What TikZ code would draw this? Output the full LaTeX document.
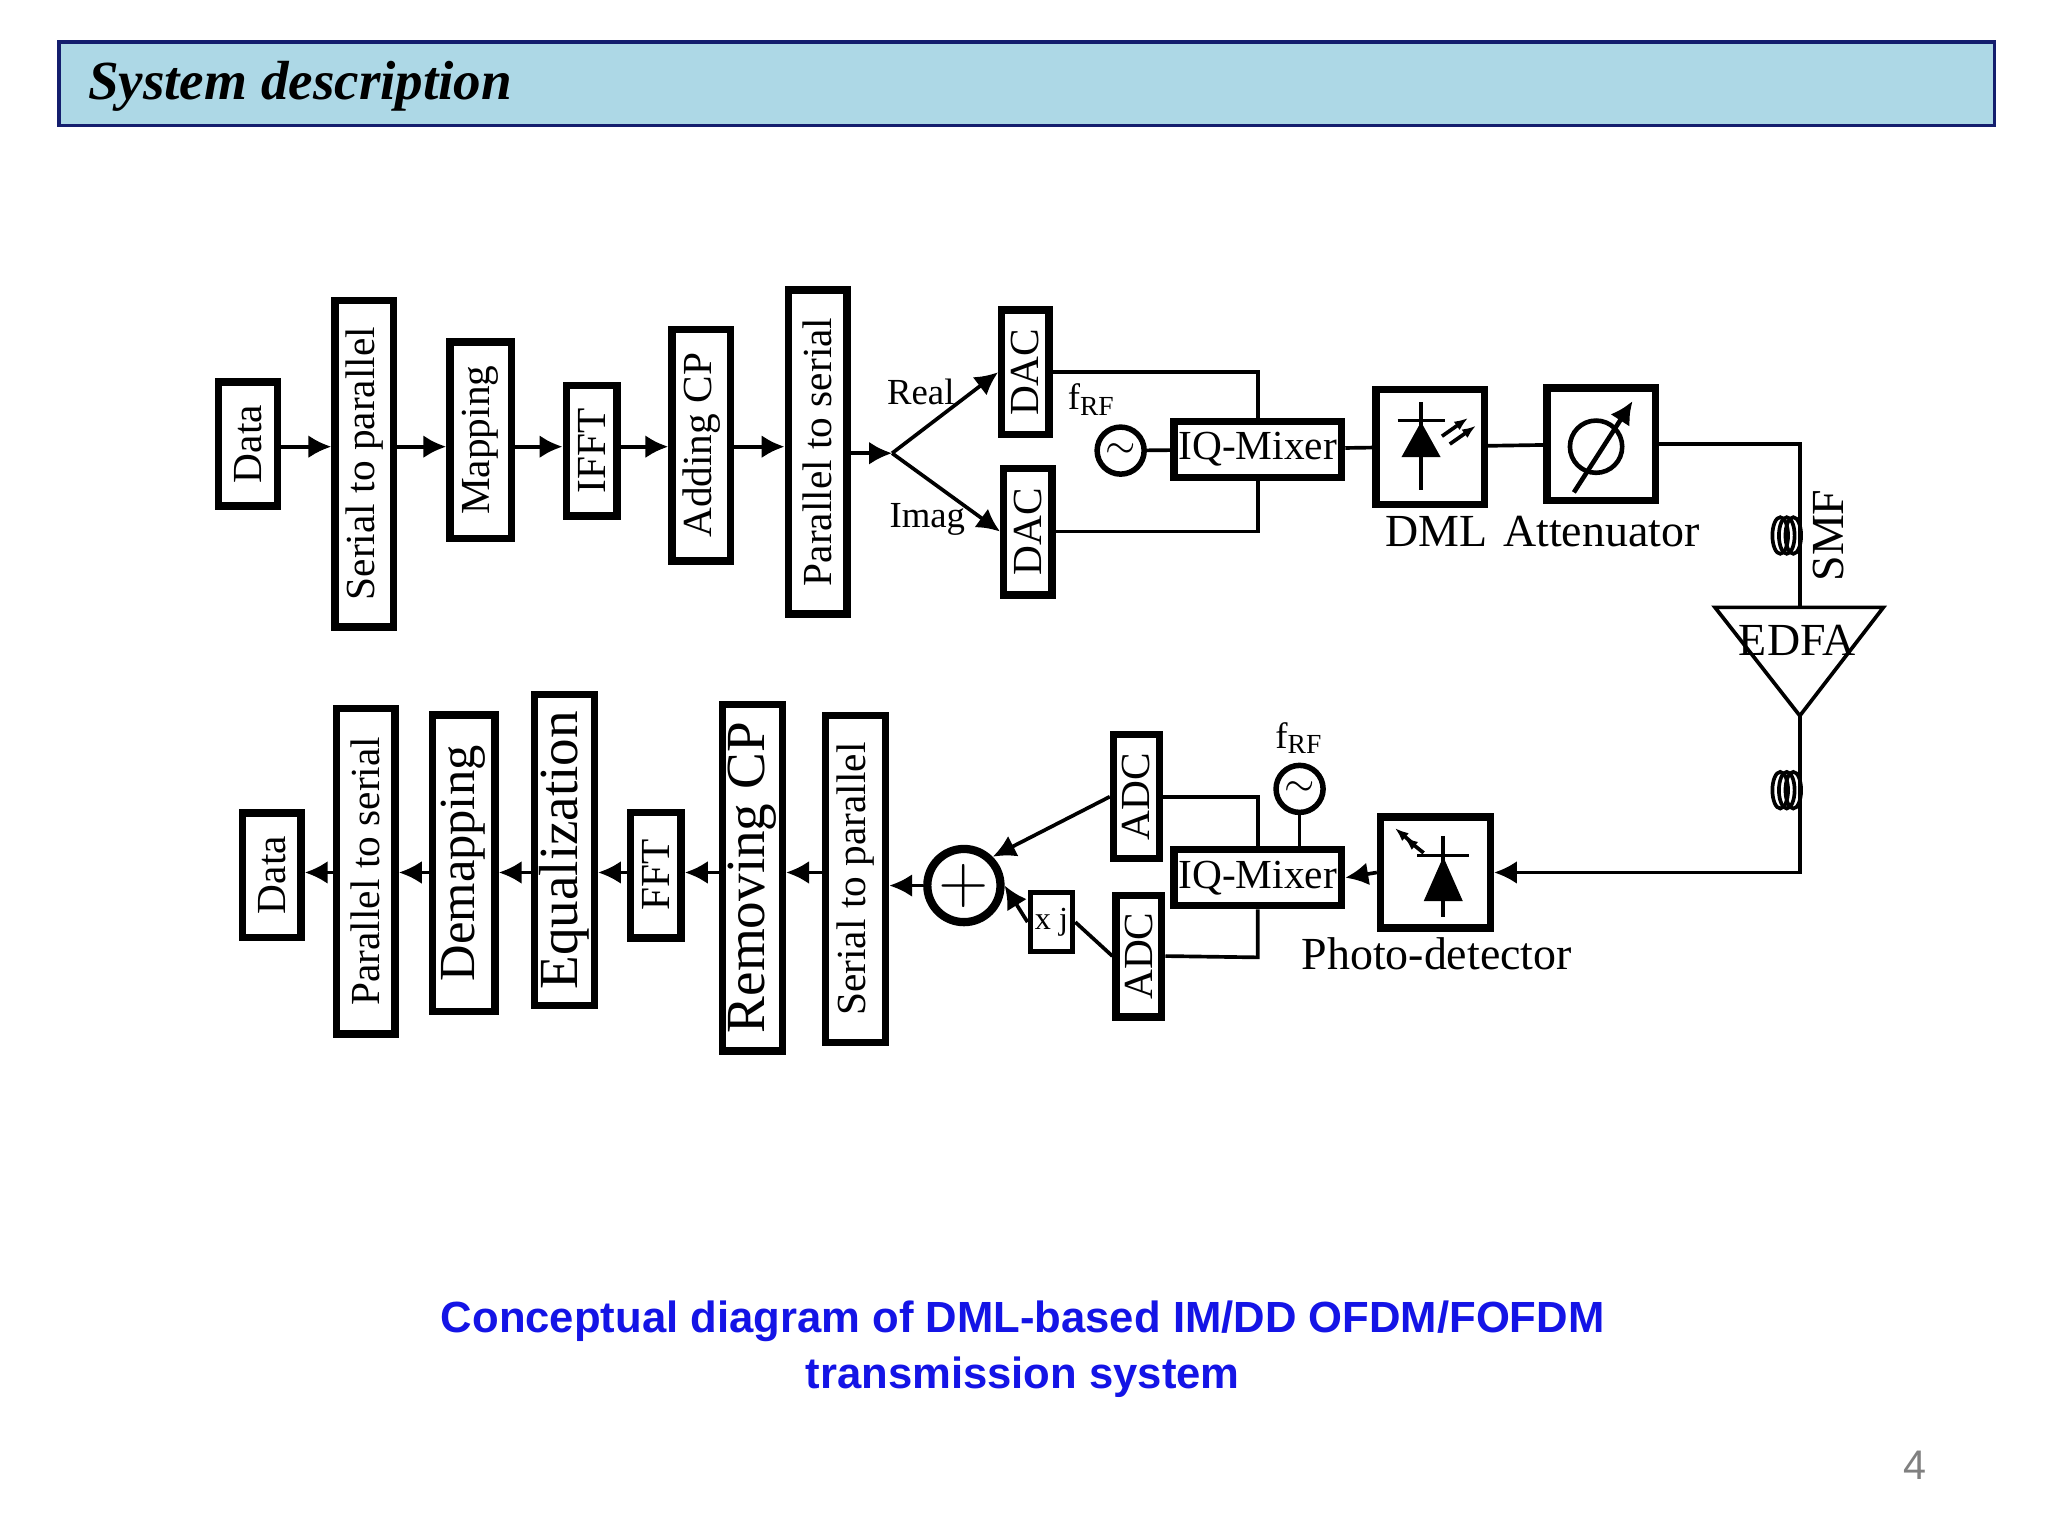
\documentclass[tikz,border=0pt]{standalone}
\usepackage{fontspec}
\setmainfont{Liberation Serif}
\newfontfamily\capfont{Liberation Sans}
\usetikzlibrary{arrows.meta,positioning,calc}
\definecolor{barblue}{RGB}{173,216,230}
\definecolor{barline}{RGB}{20,30,110}
\definecolor{capblue}{RGB}{20,20,230}
\tikzset{
  blk/.style={draw, line width=1.6pt, rotate=90, inner sep=1pt, font=\fontsize{9}{11}\selectfont},
  hblk/.style={draw, line width=1.6pt, inner sep=1pt, font=\fontsize{9}{11}\selectfont},
  arr/.style={-{Latex[length=5pt,width=5pt]}, line width=0.8pt},
  ln/.style={line width=0.8pt},
  coil/.style={line width=0.8pt}
}
\newcommand{\fibcoil}[1]{
  \foreach \dx in {-5,0,5} \draw[coil] ($(#1)+(\dx,0)$) ellipse (0.06cm and 0.14cm);
}
\begin{document}
\begin{tikzpicture}[x=0.01cm,y=-0.01cm]
\useasboundingbox (0,0) rectangle (1568,1176);
\fill[white] (0,0) rectangle (1568,1176);
% title bar
\draw[fill=barblue, draw=barline, line width=0.8pt] (45,32) rectangle (1527,96);
\node[anchor=west, font=\fontsize{12}{14}\selectfont\bfseries\itshape] (title) at (55,66) {System description};

% transmitter
\node[blk, minimum width=0.95cm, minimum height=0.45cm] (dat1) at (190,340) {Data};
\node[blk, minimum width=2.5cm, minimum height=0.45cm] (s2p1) at (279,355) {Serial to parallel};
\node[blk, minimum width=1.5cm, minimum height=0.47cm] (map) at (368,337) {Mapping};
\node[blk, minimum width=1.0cm, minimum height=0.39cm] (ifft) at (453,345) {IFFT};
\node[blk, minimum width=1.77cm, minimum height=0.45cm] (addcp) at (537,341) {Adding CP};
\node[blk, minimum width=2.48cm, minimum height=0.45cm] (p2s1) at (626,346) {Parallel to serial};
\foreach \a/\b in {dat1/s2p1,s2p1/map,map/ifft,ifft/addcp,addcp/p2s1}
  \draw[arr] (\a.south |- 0,342) -- (\b.north |- 0,342);
\coordinate (split) at (683,347);
\draw[arr] (p2s1.south |- split) -- (split);
\node[blk, minimum width=0.95cm, minimum height=0.36cm] (dac1) at (785,285) {DAC};
\node[blk, minimum width=0.97cm, minimum height=0.37cm] (dac2) at (787,407) {DAC};
\draw[arr] (split) -- (dac1.north);
\draw[arr] (split) -- (dac2.north);
\node[font=\fontsize{8}{9}\selectfont] (real) at (705,300) {Real};
\node[font=\fontsize{8}{9}\selectfont] (imag) at (710,398) {Imag};
\node[hblk, minimum width=1.16cm, minimum height=0.43cm] (iqm1) at (963,344) {IQ-Mixer};
\draw[ln] (dac1.south) -- (963,285) -- (iqm1.north);
\draw[ln] (dac2.south) -- (963,407) -- (iqm1.south);
\node[draw, circle, line width=1.2pt, minimum size=0.36cm, inner sep=0pt, font=\footnotesize] (osc1) at (858,345) {$\sim$};
\node[font=\fontsize{8}{9}\selectfont] (frf1) at (836,306) {f\textsubscript{RF}};
\draw[ln] (osc1) -- (iqm1);
\node[hblk, minimum width=0.83cm, minimum height=0.88cm] (dml) at (1095,342) {};
\node[font=\fontsize{10}{12}\selectfont] (dmltxt) at (1100,407) {DML};
\draw[ln] (iqm1) -- (dml);
\fill (1073,350) -- (1103,350) -- (1088,323) -- cycle;
\draw[ln] (1070,322) -- (1106,322) (1088,308) -- (1088,375);
\draw[arr, -{Latex[length=3pt]}] (1104,334) -- (1124,320);
\draw[arr, -{Latex[length=3pt]}] (1110,340) -- (1130,326);
\node[hblk, minimum width=0.83cm, minimum height=0.86cm] (att) at (1226,340) {};
\node[font=\fontsize{10}{12}\selectfont] (atttxt) at (1226,407) {Attenuator};
\draw[ln] (dml) -- (att);
\draw[line width=1pt] (1222,342) circle (0.2cm);
\draw[arr, line width=1pt] (1205,377) -- (1250,307);
\coordinate (edfaA) at (1313,465);
\coordinate (edfaB) at (1442,465);
\coordinate (edfaC) at (1378,548);
\draw[ln] (edfaA) -- (edfaB) -- (edfaC) -- cycle;
\node[font=\fontsize{10}{12}\selectfont] (edfa) at (1376,490) {EDFA};
\draw[ln] (att.east |- 0,340) -- (1378,340) -- (1378,465);
\fibcoil{1368,410}
\node[rotate=90, font=\fontsize{10}{12}\selectfont] (smf) at (1400,410) {SMF};

% receiver
\fibcoil{1368,605}
\node[hblk, minimum width=0.84cm, minimum height=0.85cm] (pd) at (1099,668) {};
\node[font=\fontsize{10}{12}\selectfont] (pdtxt) at (1100,730) {Photo-detector};
\draw[arr] (edfaC) -- (1378,668) -- (pd.east);
\fill (1090,690) -- (1120,690) -- (1105,656) -- cycle;
\draw[ln] (1085,655) -- (1125,655) (1105,640) -- (1105,702);
\draw[arr, -{Latex[length=3pt]}] (1082,646) -- (1068,634);
\draw[arr, -{Latex[length=3pt]}] (1090,653) -- (1075,641);
\node[hblk, minimum width=1.16cm, minimum height=0.43cm] (iqm2) at (963,672) {IQ-Mixer};
\draw[arr] (pd.west) -- (iqm2.east);
\node[draw, circle, line width=1.2pt, minimum size=0.36cm, inner sep=0pt, font=\footnotesize] (osc2) at (995,604) {$\sim$};
\node[font=\fontsize{8}{9}\selectfont] (frf2) at (995,565) {f\textsubscript{RF}};
\draw[ln] (osc2) -- (osc2 |- iqm2.north);
\node[blk, minimum width=0.95cm, minimum height=0.35cm] (adc1) at (870,610) {ADC};
\node[blk, minimum width=0.93cm, minimum height=0.35cm] (adc2) at (872,732) {ADC};
\draw[ln] (adc1.south) -- (963,610) -- (iqm2.north);
\draw[ln] (adc2.south) -- (963,733) -- (iqm2.south);
\node[draw, circle, line width=1.8pt, minimum size=0.56cm, inner sep=0pt, font=\Large] (add) at (738,678) {$+$};
\node[hblk, line width=1.2pt, minimum width=0.29cm, minimum height=0.45cm, font=\fontsize{7}{8}\selectfont] (xj) at (805,706) {x j};
\draw[arr] (adc1.north) -- (add.north east);
\draw[ln] (adc2.north) -- (xj.east);
\draw[arr] (xj.west) -- (add.east);
\node[blk, minimum width=2.5cm, minimum height=0.46cm] (s2p2) at (655,673) {Serial to parallel};
\node[blk, minimum width=2.65cm, minimum height=0.46cm, font=\fontsize{12}{14}\selectfont] (remcp) at (576,672) {Removing CP};
\node[blk, minimum width=0.96cm, minimum height=0.39cm] (fft) at (502,670) {FFT};
\node[blk, minimum width=2.38cm, minimum height=0.46cm, font=\fontsize{12}{14}\selectfont] (equ) at (432,651) {Equalization};
\node[blk, minimum width=2.27cm, minimum height=0.48cm, font=\fontsize{11}{13}\selectfont] (demap) at (355,661) {Demapping};
\node[blk, minimum width=2.49cm, minimum height=0.45cm] (p2s2) at (280,667) {Parallel to serial};
\node[blk, minimum width=0.95cm, minimum height=0.45cm] (dat2) at (208,670) {Data};
\draw[arr] (add.west) -- (s2p2.south |- 0,678);
\foreach \a/\b in {s2p2/remcp,remcp/fft,fft/equ,equ/demap,demap/p2s2,p2s2/dat2}
  \draw[arr] (\a.north |- 0,668) -- (\b.south |- 0,668);

% caption
\node[align=center, text=capblue, font=\capfont\fontsize{9.5}{12}\selectfont\bfseries] (cap) at (783,1033) {Conceptual diagram of DML-based IM/DD OFDM/FOFDM\\transmission system};
\node[text=gray, font=\capfont\fontsize{9}{10}\selectfont] (pg) at (1466,1122) {4};
\end{tikzpicture}
\end{document}
